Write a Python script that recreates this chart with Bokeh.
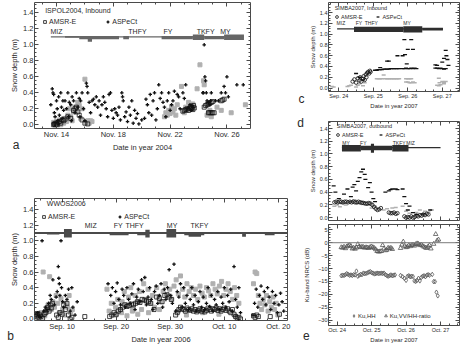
from bokeh.plotting import figure
from bokeh.layouts import row, column
from bokeh.models import (FixedTicker, NumeralTickFormatter, Label, LinearAxis,
                          Legend, LegendItem, Span, ColumnDataSource)
from bokeh.embed import file_html
from bokeh.resources import INLINE

# ---------------- data ----------------
# Panel a : ISPOL2004 inbound (x = day of November)
a_asp_x = [13.6,13.7,13.75,13.8,13.85,13.9,14.0,14.05,14.1,14.15,14.2,14.3,14.35,14.4,14.45,14.5,
           14.6,14.7,14.8,14.85,14.9,15.0,15.05,15.1,15.2,15.3,15.4,15.5,15.6,15.65,15.7,15.8,15.9,16.0,
           16.1,16.15,16.2,16.3,16.4,16.5,16.6,16.7,16.8,16.9,17.0,17.1,17.2,17.3,17.4,17.5,17.6,17.7,17.8,17.9,18.0,
           18.1,18.2,18.3,18.4,18.5,18.6,18.65,18.7,18.8,18.9,19.0,19.1,19.2,19.3,19.4,19.5,19.6,19.7,19.8,20.0,
           20.2,20.3,20.4,20.5,20.6,20.7,20.8,20.9,21.0,21.1,21.2,21.3,21.4,21.5,21.6,21.7,21.8,21.9,22.0,
           22.1,22.2,22.3,22.5,22.6,22.7,22.9,23.0,23.1,23.2,23.3,23.4,23.5,23.55,23.6,
           24.3,24.35,24.4,24.45,24.5,24.55,24.6,24.7,24.8,24.85,24.9,
           25.2,25.4,25.6,25.8,25.9,26.0,26.1,26.7,27.15]
a_asp_y = [0.25,0.45,0.40,0.38,0.15,0.10,0.30,0.20,0.05,0.35,0.12,0.40,0.22,0.08,0.30,0.18,
           0.30,0.20,0.40,0.10,0.28,0.25,0.05,0.35,0.30,0.15,0.40,0.22,0.33,0.10,0.30,0.40,0.20,0.05,
           0.52,0.48,0.40,0.28,0.15,0.30,0.32,0.25,0.35,0.22,0.30,0.12,0.25,0.35,0.28,0.20,0.10,0.38,0.40,0.18,0.08,
           0.20,0.15,0.12,0.22,0.06,0.40,0.35,0.30,0.10,0.16,0.04,0.22,0.12,0.30,0.02,0.18,0.08,0.14,0.01,0.06,
           0.08,0.32,0.25,0.15,0.38,0.12,0.30,0.40,0.06,0.20,0.50,0.33,0.40,0.28,0.22,0.10,0.30,0.40,0.18,
           0.25,0.30,0.42,0.38,0.35,0.20,0.40,0.33,0.50,0.20,0.22,0.25,0.18,0.24,0.22,
           0.40,0.40,1.00,0.60,0.55,0.40,0.30,0.28,0.25,0.30,0.40,
           0.30,0.30,0.40,0.48,0.40,0.60,0.35,0.50,0.50]
a_amsr_x = [13.8,13.85,13.9,13.95,14.0,14.05,14.1,14.2,14.3,14.4,14.5,14.6,14.8,15.0,15.2,15.3,15.4,15.5,
            15.6,15.8,16.0,16.2,22.9,23.0,23.1,23.2,23.3,23.4,23.5,23.55,23.6,23.65,23.7,
            24.4,24.5,24.6,24.7,24.8,24.9,25.0,24.7,24.8,24.9,25.0,25.1,25.6,25.7,25.8]
a_amsr_y = [0.0,0.01,0.0,0.02,0.01,0.0,0.03,0.04,0.02,0.06,0.05,0.07,0.10,0.08,0.18,0.20,0.22,0.16,
            0.12,0.06,0.02,0.01,0.17,0.18,0.19,0.20,0.18,0.21,0.20,0.22,0.19,0.24,0.21,
            0.22,0.24,0.25,0.26,0.27,0.28,0.29,0.15,0.15,0.15,0.15,0.15,0.30,0.31,0.32]
a_other_x = [13.8,13.9,14.0,14.1,14.2,14.3,14.4,14.5,14.6,14.7,14.8,14.9,15.0,15.1,15.2,15.3,15.4,15.5,
             15.6,15.7,15.8,16.0,16.1,16.2,16.3,16.4,16.5,21.6,21.7,21.8,21.9,22.0,22.1,22.2,22.3,22.4,
             22.5,22.8,23.0,23.1,23.2,23.3,23.4,23.6,23.9,24.1,24.35,24.4,24.6,24.7,24.8,24.9,25.3,25.6,26.3,27.3]
a_other_y = [0.03,0.01,0.04,0.02,0.06,0.0,0.05,0.02,0.08,0.04,0.12,0.20,0.10,0.05,0.16,0.22,0.18,0.28,
             0.24,0.08,0.20,0.57,0.03,0.05,0.02,0.05,0.04,0.10,0.15,0.12,0.18,0.14,0.22,0.16,0.20,0.12,
             0.25,0.48,0.15,0.22,0.18,0.28,0.20,0.26,0.45,0.75,0.55,0.50,0.12,0.15,0.18,0.10,0.22,0.18,0.15,0.25]
a_band_line = [13.6, 27.2]
a_band_x0 = [14.6, 15.6, 16.2, 18.7, 21.4, 23.6, 24.4, 25.8]
a_band_x1 = [15.6, 18.4, 16.5, 19.1, 23.6, 24.4, 25.8, 27.2]
a_band_lo = [1.09, 1.07, 1.04, 1.07, 1.07, 1.06, 1.07, 1.06]
a_band_hi = [1.11, 1.11, 1.08, 1.11, 1.11, 1.13, 1.11, 1.13]
a_ice_x = [14.0, 19.7, 21.85, 24.5, 25.9]
a_ice_t = ["MIZ", "THFY", "FY", "TKFY", "MY"]
a_ticks = [14, 18, 22, 26]
a_tick_labels = ["Nov. 14", "Nov. 18", "Nov. 22", "Nov. 26"]

# Panel b : WWOS2006 (x = day counted from Aug 31: Sep d -> d, Oct d -> 30 + d)
b_asp_x = [5.2,5.5,5.8,6.0,6.3,6.6,6.9,7.2,7.5,7.8,8.0,8.3,8.6,8.9,9.1,9.3,9.4,9.5,9.6,9.8,9.9,10.1,10.3,10.6,
           10.9,11.2,11.5,11.8,12.0,12.4,12.8,
           18.5,19.0,19.3,19.6,19.9,20.2,20.5,20.8,21.1,21.4,21.7,22.0,22.3,22.6,22.9,23.2,23.5,23.8,24.1,24.4,
           24.7,25.0,25.3,25.6,25.9,26.2,26.5,26.8,27.1,27.4,27.7,28.0,28.3,28.6,28.9,29.2,29.5,29.8,30.1,30.4,
           30.7,31.0,31.3,31.6,31.9,32.2,32.5,32.8,33.1,33.4,33.7,34.0,34.3,34.6,34.9,35.2,35.5,35.8,36.1,36.4,
           36.7,37.0,37.3,37.6,37.9,38.2,38.5,38.8,39.1,39.4,39.7,40.0,40.3,40.6,40.9,41.2,41.5,41.8,42.1,42.4,
           42.7,43.0,
           45.3,45.6,45.9,46.2,46.5,46.8,47.1,47.4,47.7,48.0,48.3,48.6,48.9,49.2,49.5,49.8,50.1,50.4,50.7,51.0]
b_asp_y = [0.05,0.08,0.03,0.02,1.00,0.10,0.15,0.12,0.20,0.30,0.25,0.50,0.18,0.28,0.35,0.67,0.52,0.45,0.30,1.00,
           0.40,0.22,0.15,0.30,0.25,0.38,0.10,0.40,0.15,0.05,0.22,
           0.45,0.30,0.40,0.20,0.35,0.46,0.25,0.18,0.38,0.30,0.15,0.40,0.25,0.20,0.32,0.45,0.12,0.28,0.38,0.22,
           0.50,0.35,0.53,0.18,0.28,0.40,0.25,0.12,0.35,0.42,0.20,0.30,0.45,0.15,0.38,0.25,0.40,0.63,0.30,0.20,
           0.70,0.10,0.35,0.28,0.45,0.15,0.40,0.20,0.30,0.12,0.25,0.40,0.18,0.30,0.10,0.22,0.35,0.15,0.28,0.12,
           0.20,0.40,0.16,0.30,0.10,0.25,0.18,0.35,0.12,0.28,0.20,0.40,0.15,0.30,0.22,0.38,0.10,0.67,0.25,0.15,
           0.40,0.08,
           0.05,0.20,0.38,0.15,0.30,0.42,0.25,0.35,0.18,0.40,0.28,0.12,0.35,0.20,0.30,0.08,0.18,0.33,0.22,0.10]
b_amsr_x = [5.1,5.3,5.5,5.7,5.9,6.1,6.4,6.7,7.0,7.2,7.4,7.6,7.8,8.0,8.2,9.0,9.3,9.6,10.0,10.3,10.6,10.9,11.2,
            11.5,11.8,14.2,
            18.8,19.2,19.6,20.0,20.4,20.8,21.2,21.6,22.0,22.4,22.8,23.2,23.6,24.0,24.4,24.8,25.2,25.6,26.0,26.4,
            27.0,27.5,28.0,28.5,29.0,29.4,29.8,30.2,
            31.0,31.3,31.6,31.9,32.2,32.5,32.8,33.1,33.4,33.7,34.0,34.3,34.6,34.9,35.2,35.5,35.8,36.1,36.4,36.7,
            37.0,37.3,37.6,37.9,38.2,38.5,38.8,39.1,39.4,39.7,40.0,40.3,40.6,40.9,41.2,41.5,41.8,42.1,42.4,42.7,
            43.0,45.4,45.7,46.0,46.3,48.5,50.2]
b_amsr_y = [0.06,0.04,0.07,0.02,0.05,0.03,0.01,0.06,0.08,0.12,0.15,0.10,0.18,0.14,0.20,0.05,0.02,0.08,0.06,0.18,
            0.12,0.20,0.05,0.0,0.02,0.03,
            0.03,0.05,0.08,0.06,0.10,0.12,0.15,0.18,0.16,0.17,0.19,0.18,0.20,0.22,0.21,0.25,0.24,0.23,0.22,0.20,
            0.12,0.28,0.26,0.22,0.30,0.31,0.28,0.25,
            0.05,0.08,0.12,0.15,0.13,0.12,0.10,0.14,0.12,0.11,0.13,0.10,0.12,0.09,0.11,0.13,0.10,0.12,0.09,0.11,
            0.14,0.12,0.10,0.13,0.12,0.14,0.11,0.13,0.10,0.12,0.14,0.11,0.13,0.10,0.08,0.12,0.06,0.03,0.01,0.02,
            0.0,0.04,0.02,0.05,0.03,0.03,0.06]
b_other_x = [5.3,5.7,6.1,6.5,6.8,7.1,7.4,7.7,8.0,8.3,8.6,8.9,9.2,9.5,9.8,10.1,10.4,10.7,11.0,11.3,11.6,11.9,
             18.3,18.7,19.1,19.5,19.9,20.3,20.7,21.1,21.5,21.9,22.3,22.7,23.1,23.5,23.9,24.3,24.7,25.1,25.5,
             25.9,26.3,26.7,27.1,27.5,27.9,28.3,28.7,29.1,29.5,29.9,30.3,30.7,31.1,31.5,31.9,32.3,32.7,33.1,
             33.5,33.9,34.3,34.7,35.1,35.5,35.9,36.3,36.7,37.1,37.5,37.9,38.3,38.7,39.1,39.5,39.9,40.3,40.7,
             41.1,41.5,41.9,42.3,42.7,20.0,21.0,22.0,23.0,24.0,26.0,28.0,31.5,33.0,36.0,39.0,42.0,
             45.4,45.7,46.0,46.3,46.6,46.9,47.2,47.5,47.8,48.1,48.4,48.7,49.0,49.3,49.6,49.9]
b_other_y = [0.02,0.05,0.08,0.60,0.04,0.10,0.18,0.54,0.12,0.22,0.15,0.30,0.20,0.08,0.26,0.12,0.05,0.20,0.15,
             0.30,0.08,0.12,
             0.38,0.10,0.20,0.05,0.15,0.25,0.12,0.22,0.35,0.18,0.28,0.40,0.15,0.30,0.22,0.35,0.12,0.45,0.25,
             0.38,0.20,0.30,0.15,0.40,0.28,0.22,0.35,0.45,0.30,0.38,0.25,0.42,0.50,0.32,0.55,0.38,0.28,0.45,
             0.35,0.40,0.30,0.38,0.25,0.42,0.33,0.28,0.40,0.36,0.30,0.45,0.38,0.32,0.42,0.48,0.30,0.38,0.45,
             0.35,0.25,0.40,0.30,0.20,0.05,0.08,0.04,0.10,0.06,0.08,0.12,0.10,0.05,0.08,0.06,0.04,
             0.45,0.60,0.58,0.30,0.20,0.12,0.25,0.18,0.30,0.10,0.22,0.15,0.28,0.12,0.20,0.05]
b_band_line = [4.9, 51.69]
b_band_x0 = [7.2, 10.35, 18.8, 23.9, 25.4, 29.3, 32.6, 33.4, 43.3, 47.5]
b_band_x1 = [9.5, 11.8, 22.3, 25.8, 26.2, 31.1, 36.3, 35.7, 44.0, 49.3]
b_band_lo = [1.08, 1.04, 1.07, 1.07, 1.04, 1.04, 1.07, 1.05, 1.05, 1.07]
b_band_hi = [1.11, 1.15, 1.11, 1.11, 1.14, 1.15, 1.11, 1.10, 1.10, 1.11]
b_ice_x = [15.3, 20.4, 23.4, 30.35, 35.4]
b_ice_t = ["MIZ", "FY", "THFY", "MY", "TKFY"]
b_ticks = [10, 20, 30, 40, 50]
b_tick_labels = ["Sep. 10", "Sep. 20", "Sep. 30", "Oct. 10", "Oct. 20"]

# Panel c : SIMBA2007 inbound (x = day of September)
c_asp_x = [25.05,25.1,25.15,25.2,25.25,25.3,25.35,25.4,25.45,25.5,25.55,25.6,25.65,25.7,25.75,25.85,25.9,
           25.95,26.0,26.05,26.1,26.15,26.2,26.25,26.8,26.85,26.9,26.95,27.0,27.05,27.1,
           25.2,25.4,25.45,25.7,25.85,25.9,25.92,25.97,26.0,26.1,26.15,26.8,26.85,27.0,27.05,27.1,27.12,27.15,
           27.18,24.5,24.6,24.7]
c_asp_y = [0.33,0.33,0.34,0.34,0.34,0.35,0.35,0.35,0.35,0.36,0.36,0.36,0.36,0.36,0.36,0.36,0.36,
           0.37,0.36,0.36,0.37,0.36,0.37,0.36,0.37,0.37,0.36,0.37,0.36,0.35,0.36,
           0.38,0.50,0.50,0.60,0.60,0.90,0.62,0.45,0.72,0.90,0.72,0.43,0.42,0.48,0.55,0.70,0.60,0.53,
           0.42,0.27,0.20,0.15]
c_amsr_x = [24.4,24.45,24.5,24.55,24.6,24.62,24.65,24.7,24.72,24.75,24.78,24.8,24.82,24.85,24.88,24.9,24.92]
c_amsr_y = [0.12,0.16,0.10,0.18,0.14,0.20,0.12,0.17,0.22,0.15,0.25,0.20,0.28,0.30,0.27,0.32,0.30]
c_other_x = [23.8,23.85,24.25,24.3,24.35,24.5,24.55,24.6,24.7,24.75,25.3,25.1,25.15,25.2,25.25,25.35,25.4,
             25.45,25.5,25.55,25.6,25.65,25.7,25.75,25.95,26.0,26.05,26.1,25.95,26.0,26.05,26.1,26.15,26.2,
             26.85,26.9,26.95,26.92,27.0,27.05,27.1,26.9,27.05]
c_other_y = [0.03,0.02,0.03,0.04,0.05,0.02,0.05,0.08,0.04,0.10,0.24,0.17,0.17,0.17,0.17,0.17,0.17,
             0.17,0.17,0.17,0.17,0.17,0.17,0.17,0.17,0.17,0.17,0.17,0.11,0.11,0.10,0.10,0.11,0.10,
             0.05,0.04,0.06,0.10,0.12,0.10,0.12,0.18,0.08]
c_band_line = [23.95, 27.02]
c_band_x0 = [24.44, 25.87, 26.42]
c_band_x1 = [25.87, 26.42, 27.02]
c_band_lo = [1.04, 1.03, 1.07]
c_band_hi = [1.14, 1.15, 1.12]
c_ice_x = [24.06, 24.58, 24.94, 25.98]
c_ice_t = ["MIZ", "FY", "THFY", "MY"]
cde_ticks = [24, 25, 26, 27]
c_tick_labels = ["Sep. 24", "Sep. 25", "Sep. 26", "Sep. 27"]

# Panel d : SIMBA2007 outbound (x = day of October)
d_asp_x = [23.9,23.95,24.05,24.2,24.3,24.4,24.45,24.5,24.55,24.6,24.65,24.7,24.75,24.8,24.82,24.9,24.95,
           25.0,25.05,25.1,25.4,25.5,25.55,25.6,25.7,25.75,25.9,25.95,26.0,26.05,26.1,26.2,26.3,26.5,26.7]
d_asp_y = [0.50,0.40,0.30,0.37,0.45,0.33,0.48,0.52,0.42,0.57,0.63,0.72,0.76,0.68,0.60,0.47,0.55,
           0.40,0.30,0.25,0.40,0.42,0.44,0.45,0.45,0.44,0.45,0.33,0.22,0.12,0.18,0.08,0.05,0.06,0.12]
d_amsr_x = [23.92,23.97,24.02,24.07,24.12,24.17,24.22,24.27,24.32,24.37,24.42,24.47,24.52,24.57,24.62,24.67,
            24.72,24.77,24.82,24.87,24.92,24.97,25.02,25.07,25.12,25.17,25.22,25.27,25.5,25.55,25.6,25.65,
            25.7,25.75,25.95,26.0,26.05,26.1,26.15,26.2,26.25,26.3,26.35,26.4,26.45,26.5,26.55,26.6,26.65]
d_amsr_y = [0.24,0.25,0.24,0.25,0.25,0.24,0.25,0.25,0.24,0.25,0.24,0.25,0.24,0.24,0.25,0.24,
            0.23,0.23,0.22,0.22,0.23,0.22,0.20,0.17,0.14,0.12,0.13,0.15,0.08,0.07,0.07,0.08,
            0.06,0.07,0.02,0.0,0.01,0.0,0.02,0.0,0.01,0.03,0.02,0.04,0.03,0.05,0.04,0.06,0.05]
d_other_x = [23.92,24.0,24.08,24.15,24.25,24.4,24.5,24.6,24.7,24.8,24.9,25.0,25.1,25.35,25.45,25.6,25.7,
             25.9,26.0,26.1,26.3,26.4,26.55,26.65,26.75]
d_other_y = [0.18,0.20,0.17,0.22,0.20,0.25,0.28,0.22,0.26,0.24,0.20,0.15,0.18,0.12,0.14,0.15,0.16,
             0.18,0.10,0.07,0.08,0.12,0.10,0.09,0.12]
d_band_line = [24.14, 27.0]
d_band_x0 = [24.14, 24.69, 24.98, 25.6]
d_band_x1 = [24.69, 25.6, 25.07, 26.07]
d_band_lo = [1.04, 1.06, 1.02, 1.04]
d_band_hi = [1.14, 1.13, 1.16, 1.14]
d_ice_x = [24.26, 24.76, 25.8, 26.13]
d_ice_t = ["MY", "FY", "TKFY", "MIZ"]

# Panel e : Ku-band NRCS (x = day of October)
e_hh_x = [24.12,24.16,24.2,24.24,24.28,24.32,24.36,24.4,24.44,24.48,24.52,24.56,24.6,24.64,24.68,24.72,
          24.76,24.8,24.84,24.88,24.92,24.96,25.0,25.04,25.08,25.12,25.16,25.2,25.24,25.28,25.32,25.36,
          25.4,25.44,25.48,25.52,25.56,25.6,25.64,25.68,25.84,25.9,25.95,26.0,26.04,26.08,26.12,26.16,
          26.2,26.24,26.28,26.32,26.36,26.4,26.44,26.48,26.52,26.56,26.6,26.64,26.68,26.76,26.8,26.84,
          26.88,26.92]
e_hh_y = [-12.8,-12.6,-12.7,-12.4,-12.0,-12.3,-12.6,-12.5,-12.7,-12.4,-12.5,-11.0,-13.0,-12.6,-12.3,-12.4,
          -11.8,-12.0,-11.9,-11.7,-11.4,-11.2,-11.6,-11.8,-12.1,-12.0,-11.8,-11.9,-11.9,-11.8,-11.9,-11.8,
          -12.4,-12.7,-13.0,-12.8,-12.5,-12.8,-12.6,-12.5,-12.7,-13.2,-13.8,-14.6,-13.0,-12.8,-13.2,-13.0,
          -13.1,-14.8,-15.0,-14.6,-13.8,-14.8,-13.5,-13.0,-12.8,-13.2,-12.6,-12.4,-12.6,-12.3,-15.1,-15.1,
          -19.2,-20.6]
e_ratio_x = [24.12,24.16,24.2,24.24,24.28,24.32,24.36,24.4,24.44,24.48,24.52,24.56,24.6,24.64,24.68,24.72,
             24.76,24.8,24.84,24.88,24.92,24.96,25.0,25.04,25.08,25.12,25.16,25.2,25.24,25.28,25.32,25.36,
             25.4,25.44,25.48,25.52,25.56,25.6,25.84,25.88,25.92,25.96,26.0,26.04,26.08,26.12,26.16,26.2,
             26.24,26.28,26.32,26.36,26.4,26.44,26.48,26.52,26.56,26.6,26.64,26.68,26.72,26.8,26.86,26.9,26.94]
e_ratio_y = [-1.8,-2.0,-1.6,-2.2,-1.5,-1.2,-1.0,-1.3,-2.3,-2.0,-2.4,-1.9,-0.6,-1.5,-1.8,-1.6,
             -1.7,-2.0,-1.8,-1.9,-2.1,-1.7,-1.5,-1.8,-2.1,-2.6,-3.3,-3.5,-3.4,-3.3,-1.0,-2.3,
             -3.0,-2.8,-2.0,-2.2,-2.0,-2.5,-2.1,-0.8,0.4,-1.3,-1.8,-1.6,-1.0,-1.4,-1.0,-0.8,
             -1.2,-0.6,-0.3,-0.5,-1.0,-0.8,-1.2,-1.6,-1.9,-2.1,-1.5,-1.0,-2.3,-0.5,3.3,0.8,1.2]
e_ticks = [5, 0, -5, -10, -15, -20, -25, -30]
e_tick_labels = ["Oct. 24", "Oct. 25", "Oct. 26", "Oct. 27"]
snow_ticks = [0.0, 0.2, 0.4, 0.6, 0.8, 1.0, 1.2, 1.4]

# ---------------- style ----------------
FONT = "Liberation Sans Narrow, Liberation Sans"
INK = "#2a2a2a"
AXC = "#4a4a4a"
GREY = "#b0b0b0"


def frange(a, b, step):
    out, v = [], a
    while v <= b + 1e-9:
        out.append(round(v, 4))
        v += step
    return out


def style_axis(ax, tick_px, lab_px, show_labels=True):
    ax.major_tick_in = 4
    ax.major_tick_out = 0
    ax.minor_tick_in = 2
    ax.minor_tick_out = 0
    ax.axis_line_color = None
    ax.major_tick_line_color = AXC
    ax.minor_tick_line_color = AXC
    ax.major_label_text_font = FONT
    ax.major_label_text_font_size = tick_px if show_labels else "1px"
    ax.major_label_text_color = INK if show_labels else None
    ax.major_label_standoff = 1 if show_labels else 0
    ax.axis_label_text_font = FONT
    ax.axis_label_text_font_style = "normal"
    ax.axis_label_text_font_size = lab_px
    ax.axis_label_text_color = INK
    ax.axis_label_standoff = 1


class Panel:
    def __init__(self, fw, fh, borders, xr, yr, xt, xmin, xlab, xtitle, yt, ymin, yfmt, ytitle,
                 tick_px, lab_px, show_x=True):
        left, right, top, bottom = borders
        self.xr, self.yr = xr, yr
        self.fw, self.fh = fw, fh
        p = figure(frame_width=fw, frame_height=fh, x_range=xr, y_range=yr, output_backend="svg",
                   toolbar_location=None, min_border_left=left, min_border_right=right,
                   min_border_top=top, min_border_bottom=bottom, title=None)
        p.grid.visible = False
        p.outline_line_color = AXC
        p.outline_line_width = 1
        xa, ya = p.xaxis[0], p.yaxis[0]
        xa.ticker = FixedTicker(ticks=xt, minor_ticks=xmin)
        ya.ticker = FixedTicker(ticks=yt, minor_ticks=ymin)
        if xlab is not None:
            xa.major_label_overrides = dict(zip(xt, xlab))
        if yfmt:
            ya.formatter = NumeralTickFormatter(format=yfmt)
        style_axis(xa, tick_px, lab_px, show_x)
        style_axis(ya, tick_px, lab_px, True)
        if xtitle:
            xa.axis_label = xtitle
        ya.axis_label = ytitle
        # mirrored inward ticks on the top and right edges (labels hidden)
        ta = LinearAxis(ticker=FixedTicker(ticks=xt, minor_ticks=xmin))
        style_axis(ta, tick_px, lab_px, False)
        p.add_layout(ta, "above")
        ra = LinearAxis(ticker=FixedTicker(ticks=yt, minor_ticks=ymin))
        style_axis(ra, tick_px, lab_px, False)
        p.add_layout(ra, "right")
        self.p = p

    def letter(self, dx, dy, txt, side):
        # dx, dy: pixel offsets from the frame's bottom-left corner, converted to data units;
        # the label sits in a side panel so that it is not clipped to the frame
        x = self.xr[0] + dx * (self.xr[1] - self.xr[0]) / self.fw
        y = self.yr[0] + dy * (self.yr[1] - self.yr[0]) / self.fh
        self.p.add_layout(Label(x=x, y=y, text=txt, text_font=FONT, text_font_size="12px",
                                text_color=INK, text_align="center", text_baseline="middle"), side)


def add_band(p, line, x0, x1, lo, hi, lw, color):
    p.line(x=line, y=[1.1, 1.1], line_color=color, line_width=lw)
    p.quad(left=x0, right=x1, bottom=lo, top=hi, fill_color=color, line_color=None)


def add_ice(p, xs, ts, yv, px):
    src = ColumnDataSource(dict(x=xs, y=[yv] * len(xs), t=ts))
    p.text(x="x", y="y", text="t", source=src, text_font_size=px, text_align="center",
           text_baseline="middle", text_color=INK, text_font={"value": FONT})


def add_title(p, x, y, txt, px):
    p.add_layout(Label(x=x, y=y, text=txt, text_font=FONT, text_font_size=px, text_color=INK,
                       text_baseline="middle", text_align="left"))


def add_legend(p, items, loc, px, spacing):
    leg = Legend(items=[LegendItem(label=l, renderers=[r]) for l, r in items], location=loc,
                 orientation="horizontal", background_fill_alpha=0, border_line_alpha=0,
                 label_text_font=FONT, label_text_font_size=px, label_text_color=INK,
                 glyph_width=7, glyph_height=7, label_height=7, label_width=8,
                 label_standoff=1, spacing=spacing, padding=0, margin=0)
    p.add_layout(leg)


snow_minor = frange(-0.1, 1.6, 0.05)

# ---- panel a ----
A = Panel(216, 126, (23, 51, 2, 35), (12.45, 27.66), (-0.047, 1.53), a_ticks,
          frange(12, 28, 1), a_tick_labels, "Date in year 2004", snow_ticks, snow_minor,
          "0.0", "Snow depth (m)", "7.5px", "7.5px")
pa = A.p
add_band(pa, a_band_line, a_band_x0, a_band_x1, a_band_lo, a_band_hi, 1.2, "#666666")
pa.scatter(a_other_x, a_other_y, marker="square", size=4, fill_color=GREY, line_color=GREY)
ra_m = pa.scatter(a_amsr_x, a_amsr_y, marker="square", size=4, fill_color=None, line_color="#111111",
                  line_width=0.8)
ra_a = pa.scatter(a_asp_x, a_asp_y, marker="cross", size=3.5, line_color="#111111", line_width=1.3)
add_ice(pa, a_ice_x, a_ice_t, 1.17, "7px")
add_title(pa, 13.2, 1.43, "ISPOL2004, Inbound", "7px")
add_legend(pa, [("AMSR-E", ra_m), ("ASPeCt", ra_a)], (7, 103), "7px", 28)
A.letter(-18.4, -16, "a", "below")

# ---- panel b ----
B = Panel(253, 122, (30, 7, 30, 26), (4.9, 51.69), (-0.02, 1.54), b_ticks,
          frange(4, 52, 2), b_tick_labels, "Date in year 2006", snow_ticks, snow_minor,
          "0.0", "Snow depth (m)", "7.5px", "7.5px")
pb = B.p
add_band(pb, b_band_line, b_band_x0, b_band_x1, b_band_lo, b_band_hi, 2, "#4a4a4a")
pb.scatter(b_other_x, b_other_y, marker="square", size=4, fill_color=GREY, line_color=GREY)
rb_m = pb.scatter(b_amsr_x, b_amsr_y, marker="square", size=4, fill_color=None, line_color="#111111",
                  line_width=0.8)
rb_a = pb.scatter(b_asp_x, b_asp_y, marker="cross", size=3.5, line_color="#111111", line_width=1.3)
add_ice(pb, b_ice_x, b_ice_t, 1.2, "7px")
add_title(pb, 7.17, 1.47, "WWOS2006", "7px")
add_legend(pb, [("AMSR-E", rb_m), ("ASPeCt", rb_a)], (6, 100), "7px", 41)
B.letter(-24, -15, "b", "left")

# ---- panel c ----
cd_minor = frange(23.5, 27.75, 0.25)
C = Panel(131, 89, (34, 2, 2, 25), (23.7, 27.5), (-0.065, 1.59), cde_ticks, cd_minor,
          c_tick_labels, "Date in year 2007", snow_ticks, snow_minor, "0.0", "Snow depth (m)",
          "5.5px", "6px")
pc = C.p
add_band(pc, c_band_line, c_band_x0, c_band_x1, c_band_lo, c_band_hi, 1.2, "#2e2e2e")
pc.scatter(c_other_x, c_other_y, marker="dash", size=4, line_color=GREY, line_width=1.5)
rc_m = pc.scatter(c_amsr_x, c_amsr_y, marker="circle", size=3.5, fill_color=None, line_color="#111111",
                  line_width=0.8)
rc_a = pc.scatter(c_asp_x, c_asp_y, marker="dash", size=4, line_color="#111111", line_width=1.3)
add_ice(pc, c_ice_x, c_ice_t, 1.2, "5px")
add_title(pc, 23.88, 1.49, "SIMBA2007, Inbound", "5.5px")
add_legend(pc, [("AMSR-E", rc_m), ("ASPeCt", rc_a)], (5, 71), "5.5px", 12)
C.letter(-27, -7.4, "c", "left")

# ---- panel d ----
D = Panel(131, 99, (34, 2, 5, 2), (23.75, 27.55), (-0.045, 1.51), cde_ticks, cd_minor,
          None, None, snow_ticks, snow_minor, "0.0", "Snow depth (m)", "5.5px", "6px",
          show_x=False)
pd_ = D.p
add_band(pd_, d_band_line, d_band_x0, d_band_x1, d_band_lo, d_band_hi, 1.2, "#2e2e2e")
pd_.scatter(d_other_x, d_other_y, marker="dash", size=4, line_color=GREY, line_width=1.5)
rd_m = pd_.scatter(d_amsr_x, d_amsr_y, marker="circle", size=3.5, fill_color=None,
                   line_color="#111111", line_width=0.8)
rd_a = pd_.scatter(d_asp_x, d_asp_y, marker="dash", size=4, line_color="#111111", line_width=1.3)
add_ice(pd_, d_ice_x, d_ice_t, 1.18, "5px")
add_title(pd_, 23.99, 1.44, "SIMBA2007, outbound", "5.5px")
add_legend(pd_, [("AMSR-E", rd_m), ("ASPeCt", rd_a)], (6, 82), "5.5px", 14)
D.letter(-28, 97.5, "d", "left")

# ---- panel e ----
E = Panel(131, 101, (34, 2, 2, 17), (23.75, 27.55), (-32.1, 7.06), cde_ticks, cd_minor,
          e_tick_labels, "Date in year 2007", e_ticks, frange(-32, 7, 1), None,
          "Ku-band NRCS (dB)", "5.5px", "6px")
pe = E.p
pe.yaxis[0].axis_label_standoff = 5
pe.add_layout(Span(location=0, dimension="width", line_color="#7a7a7a", line_width=1))
re_h = pe.scatter(e_hh_x, e_hh_y, marker="diamond", size=4.5, fill_color=None, line_color="#555555",
                  line_width=0.8)
re_r = pe.scatter(e_ratio_x, e_ratio_y, marker="triangle", size=4.5, fill_color=None,
                  line_color="#555555", line_width=0.8)
add_legend(pe, [("Ku,HH", re_h), ("Ku,VV/HH-ratio", re_r)], (22, 6), "6px", 6)
E.letter(-22.2, -9.6, "e", "left")

layout = row(column(pa, pb), column(pc, pd_, pe))
open("out.html", "w").write(file_html(layout, INLINE))
